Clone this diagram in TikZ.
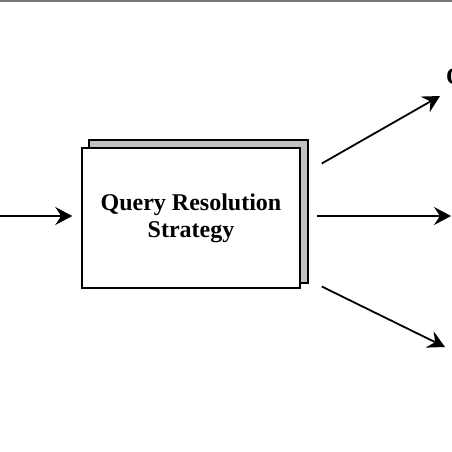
\documentclass[tikz,border=0pt]{standalone}
\usepackage{fontspec}
\setmainfont{Liberation Serif}
\usepackage{tikz}
\usetikzlibrary{arrows.meta}
\usetikzlibrary{calc}
\definecolor{shadowgray}{RGB}{192,192,192}
\definecolor{rulegray}{RGB}{118,118,118}
\tikzset{%
  flow/.style = {-{Stealth[length=17pt,width=18pt,inset=6pt]},line width=1.8pt},
  frontbox/.style = {rectangle,draw,fill=white,line width=1.5pt,
        minimum width=218pt,minimum height=140pt,
        font=\bfseries\fontsize{24}{27}\selectfont,align=center},
  backbox/.style = {rectangle,draw,fill=shadowgray,line width=1.5pt,
        minimum width=219pt,minimum height=143pt}
}

\begin{document}
\begin{tikzpicture}[x=1pt,y=-1pt]
    \useasboundingbox (0,0) rectangle (452,452);
    \draw[rulegray,line width=2.6pt] (0,1) -- (452,1);
    \node[backbox] (shadow) at (198.5,211.5) {};
    \node[frontbox] (qrs) at (191,218) {Query Resolution\\Strategy};
    % free ends of the connectors
    \coordinate (src) at (0,216);
    \coordinate (outA) at (440,96);
    \coordinate (outB) at (451,216);
    \coordinate (outC) at (445,347);
    \node[anchor=west,inner sep=0pt,font=\bfseries\fontsize{24}{27}\selectfont]
        (cut) at (446,77) {O};
    \draw[flow,shorten >=9pt] (src) -- (src -| qrs.west);
    \draw[flow,shorten <=8pt] (shadow.east |- src) -- (outB);
    \draw[flow] ($(shadow.east)+(13,-48)$) -- (outA);
    \draw[flow] ($(shadow.east)+(13,75)$) -- (outC);
\end{tikzpicture}
\end{document}
